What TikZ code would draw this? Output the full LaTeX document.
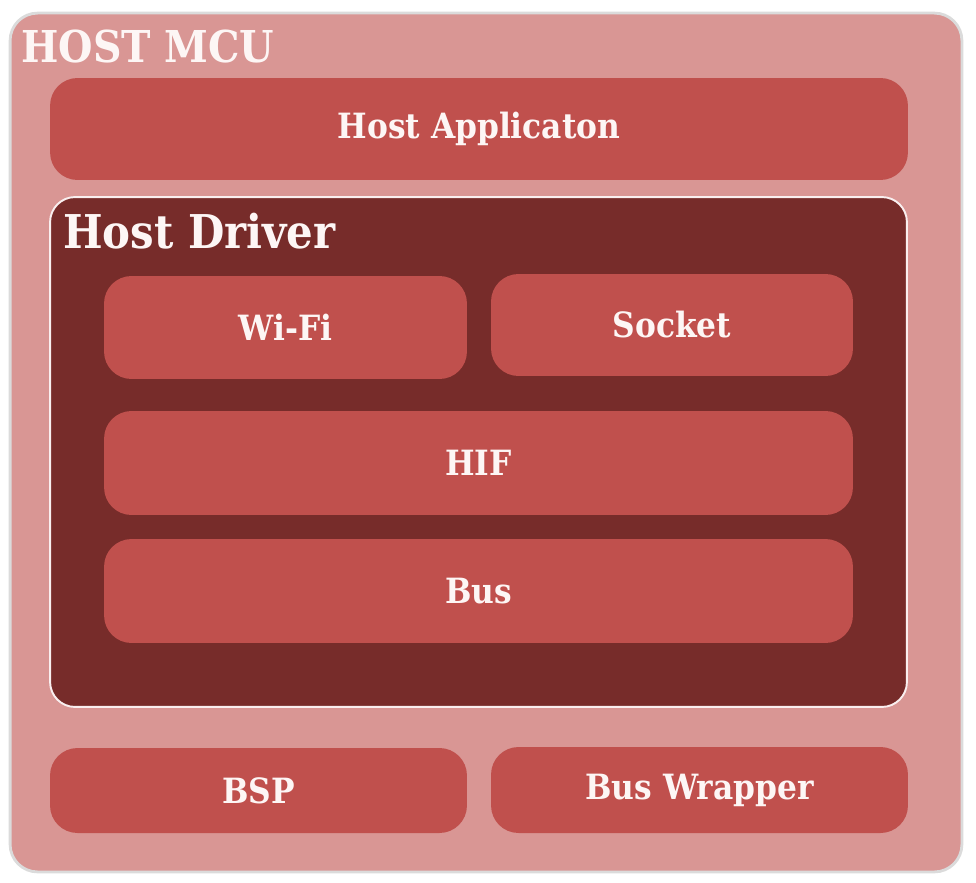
\documentclass[tikz,border=0pt]{standalone}
\usepackage{fontspec}
\setmainfont{DejaVu Serif Condensed}
\usepackage{xcolor}
\usetikzlibrary{positioning,backgrounds}

\definecolor{mcupink}{HTML}{D99694}
\definecolor{layerred}{HTML}{C0504D}
\definecolor{driverbrown}{HTML}{772C2A}
\definecolor{labelwhite}{HTML}{FDF6F5}

\begin{document}
\begin{tikzpicture}[x=0.02cm, y=-0.02cm, inner sep = 0mm, font=\bfseries]
	\tikzstyle{frame} = [rectangle, rounded corners = 0.55cm, fill = mcupink, draw = black!14, line width = 1.6pt]
	\tikzstyle{driver} = [rectangle, rounded corners = 0.5cm, fill = driverbrown, draw = white!85!mcupink, line width = 1.1pt]
	\tikzstyle{layer} = [rectangle, rounded corners = 0.55cm, fill = layerred, text = labelwhite, font = \fontsize{19.8}{23}\selectfont\bfseries]
	\tikzstyle{title} = [anchor = base west, text = labelwhite, font = \fontsize{25}{29}\selectfont\bfseries]
	\useasboundingbox (0,0) rectangle (976,882);
	\node [frame, minimum width = 19.04cm, minimum height = 17.18cm] (MCU) at (486,442.5) {};
	\node [title] (MCUlabel) at (21,63) {HOST MCU};
	\node [layer, minimum width = 17.16cm, minimum height = 2.04cm] (App) at (479,129) {Host Applicaton};
	\node [driver, minimum width = 17.14cm, minimum height = 10.2cm] (Driver) at (478.5,452) {};
	\node [title, font = \fontsize{26.5}{30}\selectfont\bfseries] (Driverlabel) at (63,248) {Host Driver};
	\node [layer, minimum width = 7.26cm, minimum height = 2.06cm] (WiFi) at (285.5,327.5) {Wi-Fi};
	\node [layer, minimum width = 7.24cm, minimum height = 2.04cm] (Socket) at (672,325) {Socket};
	\node [layer, minimum width = 14.98cm, minimum height = 2.08cm] (HIF) at (478.5,463) {HIF};
	\node [layer, minimum width = 14.98cm, minimum height = 2.08cm] (Bus) at (478.5,591) {Bus};
	\node [layer, minimum width = 8.34cm, minimum height = 1.7cm] (BSP) at (258.5,790.5) {BSP};
	\node [layer, minimum width = 8.34cm, minimum height = 1.72cm] (Wrapper) at (699.5,790) {Bus Wrapper};
\end{tikzpicture}
\end{document}
